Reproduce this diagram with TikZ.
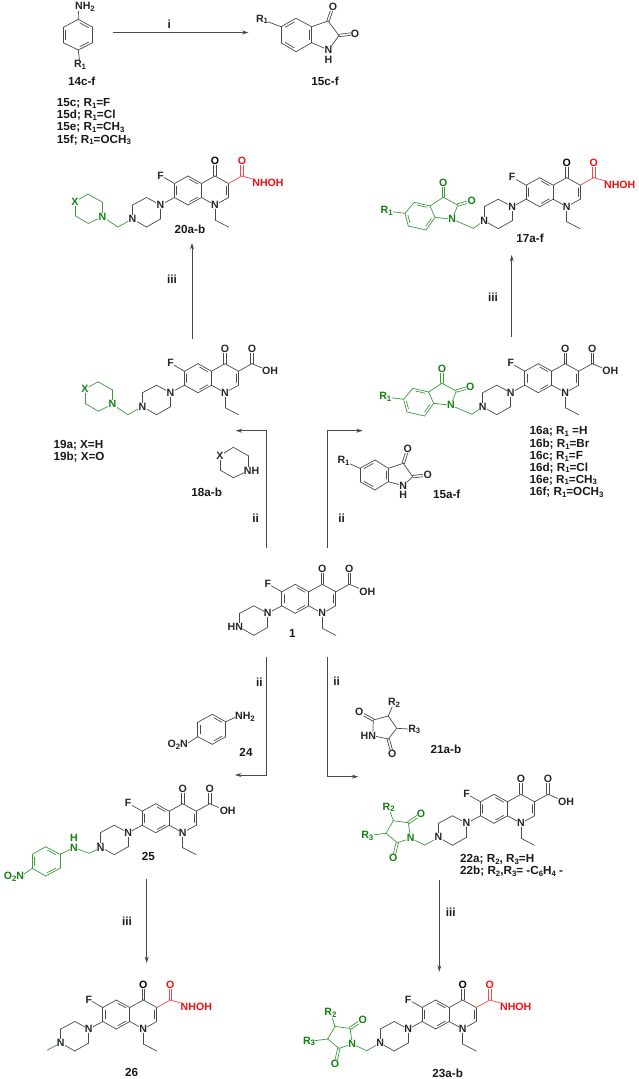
\documentclass[tikz,border=0pt]{standalone}
\usepackage{fontspec}
\setmainfont{Liberation Sans}
\usetikzlibrary{calc,arrows.meta}
\definecolor{bondgray}{HTML}{4A4A4A}
\definecolor{bondgreen}{HTML}{3C9A3C}
\definecolor{txtgreen}{HTML}{118011}
\definecolor{bondred}{HTML}{F04848}
\definecolor{txtred}{HTML}{F01010}
\definecolor{txtblack}{HTML}{262626}
\tikzset{
  bond/.style={draw=bondgray,line width=.7pt,line cap=round},
  gbond/.style={draw=bondgreen,line width=.7pt,line cap=round},
  rbond/.style={draw=bondred,line width=.7pt,line cap=round},
  atomlabel/.style={fill=white,inner sep=.3pt,font=\fontsize{10.6}{12}\bfseries\selectfont},
  cmpd/.style={inner sep=0pt,font=\fontsize{11.7}{13}\bfseries\selectfont,text=black!90},
  tablerow/.style={cmpd,anchor=west},
  rxn/.style={draw=bondgray,line width=.7pt,-{Stealth[length=6.5pt,width=4pt]}},
  rxnlabel/.style={cmpd}
}
\newcount\atomc
\newcommand\sbs[1]{\raisebox{-.3ex}{\fontsize{7.8}{8}\selectfont #1}}
\newcommand\atom[3][txtblack]{\global\advance\atomc by 1 \node[atomlabel,text=#1] (at\the\atomc) at (#2) {#3};}
\newcommand\bnd[3][bond]{\draw[#1] (#2) -- (#3);}
\newcommand\dbi[4][bond]{\draw[#1] (#2) -- (#3); \draw[#1] ($(#2)!.14!(#3)!.17!(#4)$) -- ($(#3)!.14!(#2)!.17!(#4)$);}
\newcommand\dbo[3][bond]{\draw[#1] ($(#2)!1.2pt!90:(#3)$) -- ($(#3)!1.2pt!-90:(#2)$); \draw[#1] ($(#2)!1.2pt!-90:(#3)$) -- ($(#3)!1.2pt!90:(#2)$);}
% quinolone core, origin at N1
\newcommand\core{
  \coordinate (n1) at (0,0); \coordinate (c2) at (13.5,-7.5); \coordinate (c3) at (13.5,-21.5);
  \coordinate (c4) at (0,-29); \coordinate (c4a) at (-13.5,-21.5); \coordinate (c8a) at (-13.5,-7.5);
  \coordinate (c8) at (-27,0); \coordinate (c7) at (-40.5,-7.5); \coordinate (c6) at (-40.5,-21.5);
  \coordinate (c5) at (-27,-29); \coordinate (oc) at (0,-44); \coordinate (ff) at (-54.5,-29.5);
  \coordinate (cb) at (-27,-14.5); \coordinate (cp) at (0,-14.5);
  \coordinate (pn) at (-54.5,0); \coordinate (p2) at (-54.5,14); \coordinate (p3) at (-68.5,22);
  \coordinate (pm) at (-82.5,14); \coordinate (p5) at (-82.5,0); \coordinate (p6) at (-68.5,-7.5);
  \coordinate (e1) at (0,15); \coordinate (e2) at (13.5,22);
  \bnd{n1}{c2}\dbi{c2}{c3}{cp}\bnd{c3}{c4}\bnd{c4}{c4a}\bnd{c4a}{c8a}\bnd{c8a}{n1}
  \dbi{c8a}{c8}{cb}\bnd{c8}{c7}\dbi{c7}{c6}{cb}\bnd{c6}{c5}\dbi{c5}{c4a}{cb}
  \dbo{c4}{oc}\bnd{c6}{ff}\bnd{c7}{pn}
  \bnd{pn}{p2}\bnd{p2}{p3}\bnd{p3}{pm}\bnd{pm}{p5}\bnd{p5}{p6}\bnd{p6}{pn}
  \bnd{n1}{e1}\bnd{e1}{e2}
  \atom{n1}{N}\atom{ff}{F}\atom{pn}{N}
}
\newcommand\cooh{
  \coordinate (ca) at (27,-29); \coordinate (oa) at (27,-44); \coordinate (oh) at (45,-21.5);
  \bnd{c3}{ca}\dbo{ca}{oa}\bnd{ca}{oh}\atom{oa}{O}\atom{oh}{OH}\atom{oc}{O}
}
\newcommand\hydrox{
  \coordinate (ca) at (27,-29); \coordinate (oa) at (27,-44); \coordinate (oh) at (53,-21.8);
  \bnd[rbond]{c3}{ca}\dbo[rbond]{ca}{oa}\bnd[rbond]{ca}{oh}
  \atom[txtred]{oa}{O}\atom[txtred]{oh}{NHOH}\atom[black]{oc}{O}
}
\newcommand\morpholine{
  \coordinate (mc) at (-97.3,22); \coordinate (m1) at (-112.5,11.6); \coordinate (m2) at (-112.5,-2.7);
  \coordinate (m3) at (-127,-11); \coordinate (m4) at (-140,-3.4); \coordinate (m5) at (-140,10.6);
  \coordinate (m6) at (-126.7,18.5);
  \bnd[gbond]{pm}{mc}\bnd[gbond]{mc}{m1}\bnd[gbond]{m1}{m2}\bnd[gbond]{m2}{m3}\bnd[gbond]{m3}{m4}
  \bnd[gbond]{m4}{m5}\bnd[gbond]{m5}{m6}\bnd[gbond]{m6}{m1}
  \atom[txtgreen]{m1}{N}\atom[txtgreen]{m4}{X}\atom{pm}{N}
}
\newcommand\isatinyl{
  \coordinate (i1) at (-114.4,12.6); \coordinate (ic) at (-93.4,21.6); \coordinate (i2) at (-109,-1.7);
  \coordinate (io2) at (-95,-5.7); \coordinate (i3) at (-123.4,-9.4); \coordinate (io3) at (-123.4,-24);
  \coordinate (i3a) at (-136.7,-.7); \coordinate (i7a) at (-131.7,10.6); \coordinate (i7) at (-140.7,23.3);
  \coordinate (i6) at (-158.4,19.3); \coordinate (i5) at (-161.7,6.6); \coordinate (i4) at (-152.4,-4.4);
  \coordinate (ir) at (-180,4.3); \coordinate (ib) at (-147,9);
  \bnd[gbond]{pm}{ic}\bnd[gbond]{ic}{i1}\bnd[gbond]{i1}{i2}\bnd[gbond]{i2}{i3}\bnd[gbond]{i3}{i3a}
  \bnd[gbond]{i3a}{i7a}\bnd[gbond]{i7a}{i1}\dbo[gbond]{i2}{io2}\dbo[gbond]{i3}{io3}
  \dbi[gbond]{i3a}{i4}{ib}\bnd[gbond]{i4}{i5}\dbi[gbond]{i5}{i6}{ib}\bnd[gbond]{i6}{i7}\dbi[gbond]{i7}{i7a}{ib}
  \bnd[gbond]{i5}{ir}
  \atom[txtgreen]{i1}{N}\atom[txtgreen]{io2}{O}\atom[txtgreen]{io3}{O}\atom[txtgreen]{ir}{R\sbs{1}}\atom{pm}{N}
}
\newcommand\succinimidyl{
  \coordinate (s1) at (-110.4,15); \coordinate (sc) at (-96,21.7); \coordinate (s2) at (-112.7,-.6);
  \coordinate (so2) at (-100,-9.3); \coordinate (s3) at (-127.7,-2.6); \coordinate (sr2) at (-132.3,-16);
  \coordinate (s4) at (-135,10); \coordinate (sr3) at (-153.7,12.4); \coordinate (s5) at (-123.7,19.4);
  \coordinate (so5) at (-127.7,35);
  \bnd[gbond]{pm}{sc}\bnd[gbond]{sc}{s1}\bnd[gbond]{s1}{s2}\bnd[gbond]{s2}{s3}\bnd[gbond]{s3}{s4}\bnd[gbond]{s4}{s5}\bnd[gbond]{s5}{s1}
  \dbo[gbond]{s2}{so2}\dbo[gbond]{s5}{so5}\bnd[gbond]{s3}{sr2}\bnd[gbond]{s4}{sr3}
  \atom[txtgreen]{s1}{N}\atom[txtgreen]{so2}{O}\atom[txtgreen]{so5}{O}\atom[txtgreen]{sr2}{R\sbs{2}}\atom[txtgreen]{sr3}{R\sbs{3}}\atom{pm}{N}
}
\begin{document}
\begin{tikzpicture}[x=1pt,y=-1pt]
\useasboundingbox (0,0) rectangle (638,1079);
% ---------- 14c-f
\coordinate (a1) at (78.3,19.3); \coordinate (a2) at (92.7,27.3); \coordinate (a3) at (92.7,42.7);
\coordinate (a4) at (78.3,50); \coordinate (a5) at (63.3,42.7); \coordinate (a6) at (63.3,27.3);
\coordinate (ac) at (78,35); \coordinate (an) at (85,6.7); \coordinate (ar) at (80,65);
\dbi{a1}{a2}{ac}\bnd{a2}{a3}\dbi{a3}{a4}{ac}\bnd{a4}{a5}\dbi{a5}{a6}{ac}\bnd{a6}{a1}
\bnd{a1}{78.5,9}\bnd{a4}{79.5,60}
\atom{an}{NH\sbs{2}}\atom{ar}{R\sbs{1}}
\node[cmpd] (l14) at (81.7,81.7) {14c-f};
\node[tablerow] (t1) at (56.7,103.3) {15c; R\sbs{1}=F};
\node[tablerow] (t2) at (56.7,115.2) {15d; R\sbs{1}=Cl};
\node[tablerow] (t3) at (56.7,127.6) {15e; R\sbs{1}=CH\sbs{3}};
\node[tablerow] (t4) at (56.7,139.8) {15f; R\sbs{1}=OCH\sbs{3}};
% reaction i
\coordinate (ri1) at (113,32.5); \coordinate (ri2) at (248.5,32.5);
\draw[rxn] (ri1) -- (ri2);
\node[rxnlabel] (li) at (169.3,24) {i};
% ---------- 15c-f
\coordinate (b1) at (281,26.7); \coordinate (b2) at (296,18.3); \coordinate (b3) at (311.7,26.7);
\coordinate (b4) at (311.7,42.7); \coordinate (b5) at (296,51.7); \coordinate (b6) at (281,42.7);
\coordinate (bc) at (296,35); \coordinate (b7) at (328,21); \coordinate (b8) at (339,35.5);
\coordinate (bn) at (328.5,50); \coordinate (bh) at (328.5,59.5); \coordinate (bo1) at (333,6.5); \coordinate (bo2) at (355,33.5);
\coordinate (br) at (262,19.5);
\dbi{b1}{b2}{bc}\bnd{b2}{b3}\dbi{b3}{b4}{bc}\bnd{b4}{b5}\dbi{b5}{b6}{bc}\bnd{b6}{b1}
\bnd{b3}{b7}\bnd{b7}{b8}\bnd{b8}{bn}\bnd{bn}{b4}\dbo{b7}{bo1}\dbo{b8}{bo2}\bnd{b1}{br}
\atom{br}{R\sbs{1}}\atom{bn}{N}\atom{bh}{H}\atom{bo1}{O}\atom{bo2}{O}
\node[cmpd] (l15) at (325,81.5) {15c-f};
% ---------- 20a-b
\begin{scope}[shift={(215,205)}]
\core\hydrox\morpholine
\end{scope}
\node[cmpd] (l20) at (190,229) {20a-b};
% ---------- 17a-f
\begin{scope}[shift={(566.7,206.7)}]
\core\hydrox\isatinyl
\end{scope}
\node[cmpd] (l17) at (530,238.3) {17a-f};
% ---------- 19
\begin{scope}[shift={(225,392.7)}]
\core\cooh\morpholine
\end{scope}
\node[tablerow] (t5) at (53.3,445.7) {19a; X=H};
\node[tablerow] (t6) at (53.3,457.3) {19b; X=O};
% ---------- 16
\begin{scope}[shift={(565.3,392.7)}]
\core\cooh\isatinyl
\end{scope}
\node[tablerow] (t7) at (529.3,431.7) {16a; R\sbs{1} =H};
\node[tablerow] (t8) at (529.3,444) {16b; R\sbs{1}=Br};
\node[tablerow] (t9) at (529.3,456) {16c; R\sbs{1}=F};
\node[tablerow] (t10) at (529.3,467.7) {16d; R\sbs{1}=Cl};
\node[tablerow] (t11) at (529.3,480) {16e; R\sbs{1}=CH\sbs{3}};
\node[tablerow] (t12) at (529.3,492.3) {16f; R\sbs{1}=OCH\sbs{3}};
% ---------- arrows iii upper
\coordinate (u1s) at (192,339); \coordinate (u1e) at (192,243);
\draw[rxn] (u1s) -- (u1e);
\node[rxnlabel] (l3a) at (172,279) {iii};
\coordinate (u2s) at (511.7,337); \coordinate (u2e) at (511.7,255);
\draw[rxn] (u2s) -- (u2e);
\node[rxnlabel] (l3b) at (493,297) {iii};
% ---------- 18a-b
\coordinate (d1) at (220,455.7); \coordinate (d2) at (233.3,447.3); \coordinate (d3) at (248.3,455.7);
\coordinate (d4) at (248.3,470.7); \coordinate (d5) at (233.3,477.7); \coordinate (d6) at (220,470);
\bnd{d1}{d2}\bnd{d2}{d3}\bnd{d3}{d4}\bnd{d4}{d5}\bnd{d5}{d6}\bnd{d6}{d1}
\atom{d1}{X}\atom{251.5,470.7}{NH}
\node[cmpd] (l18) at (206.7,492.7) {18a-b};
% ---------- arrows to 19 and 16
\coordinate (v1s) at (266.7,548.3); \coordinate (v1e) at (235.7,430.7);
\draw[rxn] (v1s) |- (v1e);
\node[rxnlabel] (l2a) at (255.7,518.3) {ii};
\coordinate (v2s) at (327.3,548.3); \coordinate (v2e) at (362.7,430.7);
\draw[rxn] (v2s) |- (v2e);
\node[rxnlabel] (l2b) at (341.7,518.3) {ii};
% ---------- 15a-f
\coordinate (f1) at (360,468.3); \coordinate (f2) at (375,460); \coordinate (f3) at (388.3,468.3);
\coordinate (f4) at (388.3,481.7); \coordinate (f5) at (375,490); \coordinate (f6) at (360,481.7);
\coordinate (fc) at (374,475); \coordinate (f7) at (403.3,463.3); \coordinate (f8) at (412.7,476.7);
\coordinate (fn) at (403.3,485.7); \coordinate (fh) at (403.3,495); \coordinate (fo1) at (407.7,449); \coordinate (fo2) at (427.7,475);
\coordinate (fr) at (343.5,461);
\dbi{f1}{f2}{fc}\bnd{f2}{f3}\dbi{f3}{f4}{fc}\bnd{f4}{f5}\dbi{f5}{f6}{fc}\bnd{f6}{f1}
\bnd{f3}{f7}\bnd{f7}{f8}\bnd{f8}{fn}\bnd{fn}{f4}\dbo{f7}{fo1}\dbo{f8}{fo2}\bnd{f1}{fr}
\atom{fr}{R\sbs{1}}\atom{fn}{N}\atom{fh}{H}\atom{fo1}{O}\atom{fo2}{O}
\node[cmpd] (l15a) at (446.7,494.3) {15a-f};
% ---------- 1
\begin{scope}[shift={(322.3,613.3)}]
\core\cooh
\atom{-87,14}{HN}
\end{scope}
\node[cmpd] (l1) at (292.3,633.3) {1};
% ---------- arrows down
\coordinate (w1s) at (266.7,657.3); \coordinate (w1e) at (235,775);
\draw[rxn] (w1s) |- (w1e);
\node[rxnlabel] (l2c) at (259.3,682.7) {ii};
\coordinate (w2s) at (327.3,657.3); \coordinate (w2e) at (358.3,776.7);
\draw[rxn] (w2s) |- (w2e);
\node[rxnlabel] (l2d) at (336.7,681.7) {ii};
% ---------- 24
\coordinate (g1) at (225.7,721.7); \coordinate (g2) at (212.3,714.3); \coordinate (g3) at (197.7,722.3);
\coordinate (g4) at (197.7,736.7); \coordinate (g5) at (212.3,744.3); \coordinate (g6) at (225.7,736.7);
\coordinate (gc) at (212,729.5); \coordinate (gn) at (245,716.7); \coordinate (go) at (177.7,745);
\dbi{g1}{g2}{gc}\bnd{g2}{g3}\dbi{g3}{g4}{gc}\bnd{g4}{g5}\dbi{g5}{g6}{gc}\bnd{g6}{g1}
\bnd{g1}{236,717}\bnd{g4}{188,743}
\atom{gn}{NH\sbs{2}}\atom{go}{O\sbs{2}N}
\node[cmpd] (l24) at (246,752.7) {24};
% ---------- 21a-b
\coordinate (h1) at (372.7,735.7); \coordinate (h2) at (373.3,720); \coordinate (h3) at (388.3,716);
\coordinate (h4) at (396.7,728.3); \coordinate (h5) at (388.3,739); \coordinate (ho1) at (359.3,712.3);
\coordinate (ho2) at (392.3,754); \coordinate (hr2) at (394,702.7); \coordinate (hr3) at (414.3,729.3);
\bnd{h1}{h2}\bnd{h2}{h3}\bnd{h3}{h4}\bnd{h4}{h5}\bnd{h5}{h1}\dbo{h2}{ho1}\dbo{h5}{ho2}\bnd{h3}{hr2}\bnd{h4}{hr3}
\atom{368.3,735.7}{HN}\atom{ho1}{O}\atom{ho2}{O}\atom{hr2}{R\sbs{2}}\atom{hr3}{R\sbs{3}}
\node[cmpd] (l21) at (446,749) {21a-b};
% ---------- 25
\begin{scope}[shift={(182.7,832.7)}]
\core\cooh\atom{pm}{N}
\end{scope}
\coordinate (k0) at (100.7,847.7); \coordinate (kc) at (89.3,853.3); \coordinate (kn) at (74,847.7);
\coordinate (kh) at (74,837.7); \coordinate (k1) at (60,854.3); \coordinate (k2) at (60,868.3);
\coordinate (k3) at (45.7,876); \coordinate (k4) at (32.3,868.3); \coordinate (k5) at (32.3,854.3);
\coordinate (k6) at (45.7,846.7); \coordinate (kb) at (46,861.5); \coordinate (ko) at (14,876.7);
\bnd[gbond]{k0}{kc}\bnd[gbond]{kc}{kn}\bnd[gbond]{kn}{k1}\bnd[gbond]{k1}{k2}\dbi[gbond]{k2}{k3}{kb}\bnd[gbond]{k3}{k4}
\dbi[gbond]{k4}{k5}{kb}\bnd[gbond]{k5}{k6}\dbi[gbond]{k6}{k1}{kb}\bnd[gbond]{k4}{24,874}
\atom{k0}{N}\atom[txtgreen]{kn}{N}\atom[txtgreen]{kh}{H}\atom[txtgreen]{ko}{O\sbs{2}N}
\node[cmpd] (l25) at (148.3,856.7) {25};
% ---------- 22
\begin{scope}[shift={(521,823.3)}]
\core\cooh\succinimidyl
\end{scope}
\node[tablerow] (t13) at (460,859.3) {22a; R\sbs{2}, R\sbs{3}=H};
\node[tablerow] (t14) at (460,871) {22b; R\sbs{2},R\sbs{3}= -C\sbs{6}H\sbs{4} -};
% ---------- arrows iii lower
\coordinate (x1s) at (146.7,879.3); \coordinate (x1e) at (146.7,963);
\draw[rxn] (x1s) -- (x1e);
\node[rxnlabel] (l3c) at (127,921) {iii};
\coordinate (x2s) at (439.3,880); \coordinate (x2e) at (439.3,971.7);
\draw[rxn] (x2s) -- (x2e);
\node[rxnlabel] (l3d) at (450.7,912.3) {iii};
% ---------- 26
\begin{scope}[shift={(143.3,1029)}]
\core\hydrox
\coordinate (me) at (-96,21);
\bnd[gbond]{pm}{me}
\atom{pm}{N}
\end{scope}
\node[cmpd] (l26) at (131.7,1072.3) {26};
% ---------- 23
\begin{scope}[shift={(462.7,1029)}]
\core\hydrox\succinimidyl
\end{scope}
\node[cmpd] (l23) at (447.7,1073.3) {23a-b};
\end{tikzpicture}
\end{document}
